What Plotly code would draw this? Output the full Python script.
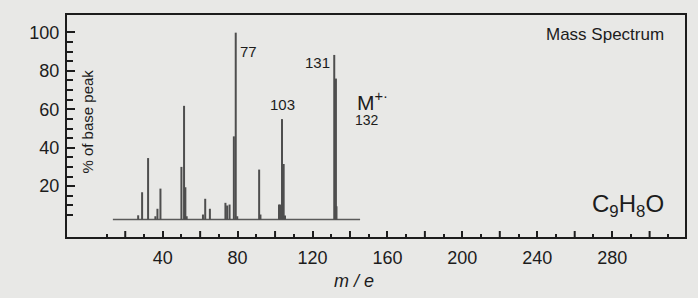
import plotly.graph_objects as go

# Peak positions (m/e) and relative intensities (% of base peak)
mz = [26.9, 29.0, 32.2, 36.1, 37.2, 38.8, 50.0, 51.4, 52.1, 52.8,
      61.5, 62.7, 65.2, 73.5, 74.4, 75.7, 78.0, 79.0, 79.8,
      91.5, 92.2, 102.1, 102.8, 103.7, 104.6, 105.3, 131.6, 132.5, 132.8]
intensity = [4.8, 16.8, 34.6, 4.3, 8.2, 18.7, 30.0, 61.8, 19.4, 4.3,
             5.2, 13.4, 8.2, 11.3, 9.9, 10.4, 45.9, 99.9, 4.3,
             28.6, 5.2, 10.4, 10.4, 54.9, 31.5, 4.7, 88.3, 76.0, 9.5]

baseline_level = 2.6
baseline_span = [13.4, 145.4]

# labelled peaks: (text, peak m/e, peak height)
peak_labels = [("77", 79.0, 99.9), ("103", 103.7, 54.9), ("131", 131.6, 88.3)]

x_tickvals = [40, 80, 120, 160, 200, 240, 280]
x_long_unlabelled = [20, 60, 100, 140, 180, 220, 260, 300]
x_minor = [10, 30, 50, 70, 90, 110, 130, 150, 170, 190, 210, 230, 250, 270, 290, 310]
y_tickvals = [20, 40, 60, 80, 100]
y_minor = [5, 10, 15, 25, 30, 35, 45, 50, 55, 65, 70, 75, 85, 90, 95]

BG = "#e8e8e6"
INK = "#1c1c1c"
BAR = "#4e4e4e"
FONT = "Liberation Sans, Arial, sans-serif"

xs, ys = [], []
for m, h in zip(mz, intensity):
    xs += [m, m, None]
    ys += [baseline_level, h, None]

fig = go.Figure()
fig.add_trace(go.Scatter(x=baseline_span, y=[baseline_level, baseline_level], mode="lines",
                         line=dict(color="#5a5a5a", width=1.5), hoverinfo="skip", showlegend=False))
fig.add_trace(go.Scatter(x=xs, y=ys, mode="lines", line=dict(color=BAR, width=2),
                         hoverinfo="skip", showlegend=False))

# long unlabelled ticks on the m/e axis (same length as the labelled ones)
for v in x_long_unlabelled:
    fig.add_shape(type="line", xref="x", yref="paper", x0=v, x1=v,
                  ysizemode="pixel", yanchor=0, y0=0, y1=6,
                  line=dict(color=INK, width=2))

ann = []
offsets = {"77": (6.8, -10.0), "103": (0.2, 7.4), "131": (-9.0, -4.0)}
for t, m, h in peak_labels:
    dx, dy = offsets[t]
    ann.append(dict(x=m + dx, y=h + dy, xref="x", yref="y", text=t, showarrow=False,
                    xanchor="center", yanchor="middle",
                    font=dict(size=15, color=INK, family=FONT)))

ann += [
    dict(x=142.5, y=64.5, xref="x", yref="y", text="M<sup>+·</sup>", showarrow=False,
         xanchor="left", yanchor="middle", font=dict(size=21, color=INK, family=FONT)),
    dict(x=149.1, y=54.5, xref="x", yref="y", text="132", showarrow=False,
         xanchor="center", yanchor="middle", font=dict(size=14, color=INK, family=FONT)),
    dict(x=0.969, y=0.91, xref="paper", yref="paper", text="Mass Spectrum", showarrow=False,
         xanchor="right", yanchor="middle", font=dict(size=17, color=INK, family=FONT)),
    dict(x=0.969, y=0.14, xref="paper", yref="paper", text="C<sub>9</sub>H<sub>8</sub>O",
         showarrow=False, xanchor="right", yanchor="middle",
         font=dict(size=24, color=INK, family=FONT)),
    dict(x=0.465, y=-0.2, xref="paper", yref="paper", text="<i>m / e</i>", showarrow=False,
         xanchor="center", yanchor="middle", font=dict(size=18, color=INK, family=FONT)),
    dict(x=0.034, y=0.52, xref="paper", yref="paper", text="% of base peak", showarrow=False,
         xanchor="center", yanchor="middle",
         textangle=-90, font=dict(size=15, color=INK, family=FONT)),
]

axis_common = dict(showgrid=False, zeroline=False, showline=True, linecolor=INK, linewidth=2,
                   mirror=True, ticks="inside", tickcolor=INK, tickwidth=2,
                   tickfont=dict(size=18, color=INK, family=FONT))

fig.update_layout(
    width=698, height=298,
    margin=dict(l=67, r=11, t=15, b=60.5),
    paper_bgcolor=BG, plot_bgcolor=BG,
    showlegend=False,
    annotations=ann,
    xaxis=dict(range=[-11.1, 318.9], tickmode="array", tickvals=x_tickvals,
               ticklen=6, ticklabelstandoff=3,
               minor=dict(tickmode="array", tickvals=x_minor, ticks="inside", ticklen=3,
                          tickwidth=2, tickcolor=INK),
               **axis_common),
    yaxis=dict(range=[-6.5, 109.1], tickmode="array", tickvals=y_tickvals,
               ticklen=8, ticklabelstandoff=2,
               minor=dict(tickmode="array", tickvals=y_minor, ticks="inside", ticklen=6,
                          tickwidth=2, tickcolor=INK),
               **axis_common),
)

fig.write_html("out.html")
